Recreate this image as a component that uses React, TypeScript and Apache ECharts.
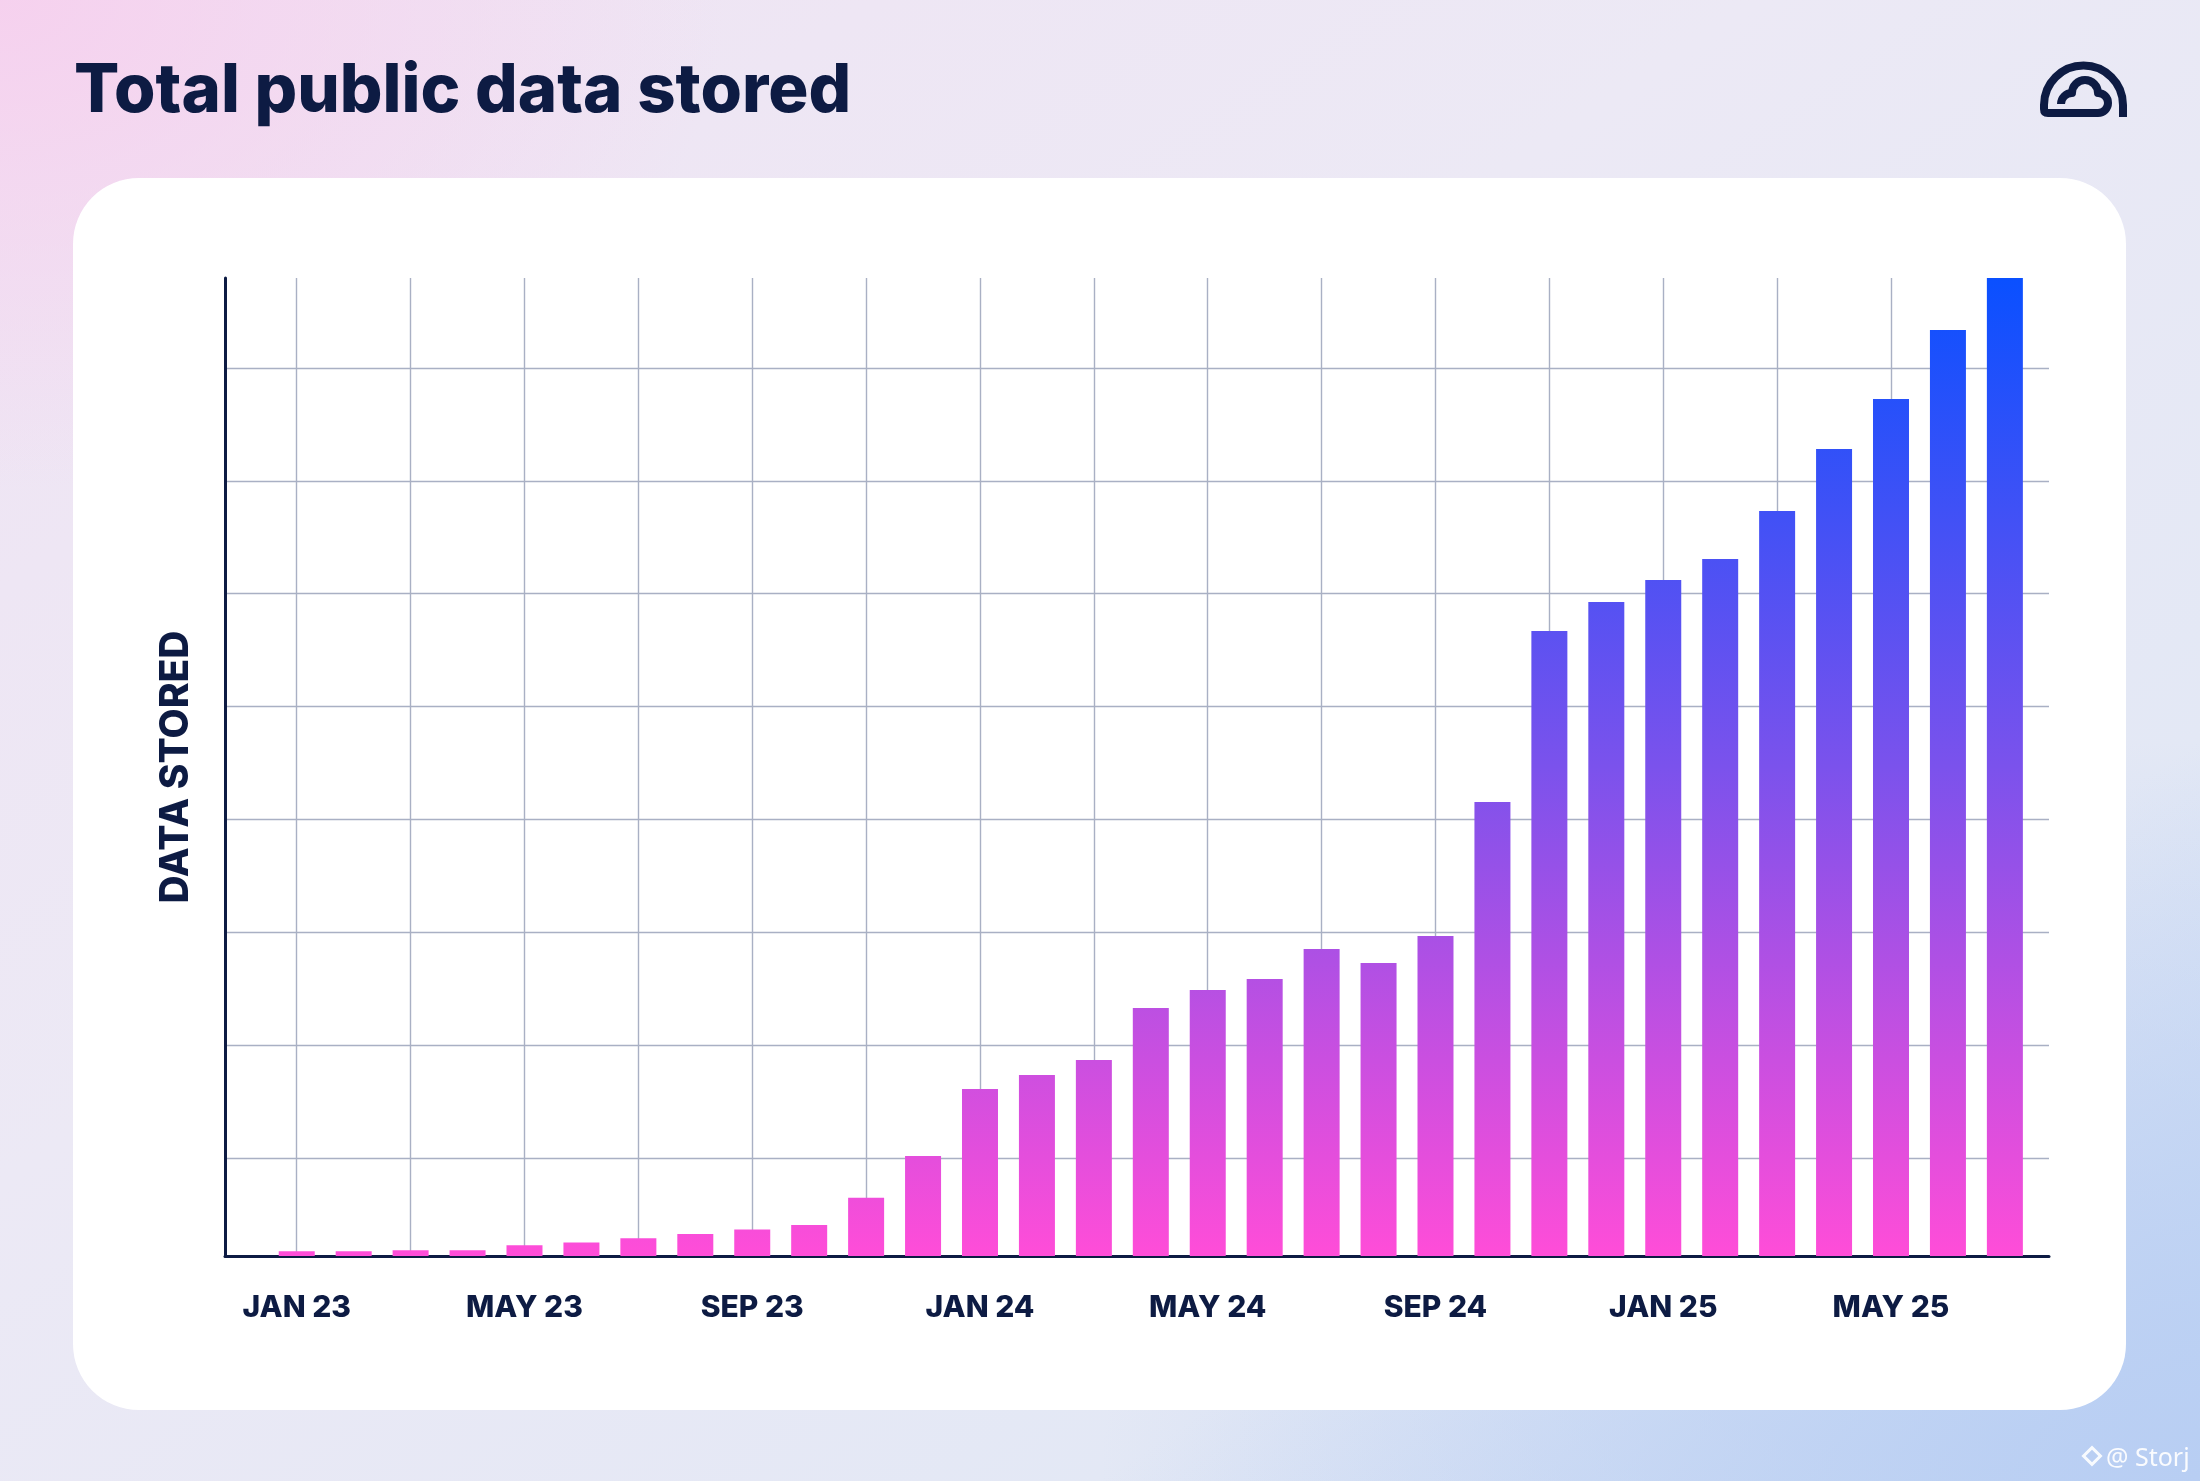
import React, { useEffect, useRef } from "react";
import * as echarts from "echarts";

// ---- data ----
const months = [
  "JAN 23", "FEB 23", "MAR 23", "APR 23", "MAY 23", "JUN 23", "JUL 23", "AUG 23",
  "SEP 23", "OCT 23", "NOV 23", "DEC 23", "JAN 24", "FEB 24", "MAR 24", "APR 24",
  "MAY 24", "JUN 24", "JUL 24", "AUG 24", "SEP 24", "OCT 24", "NOV 24", "DEC 24",
  "JAN 25", "FEB 25", "MAR 25", "APR 25", "MAY 25", "JUN 25", "JUL 25",
];
// relative amount of public data stored (top of the axis = 100)
const dataStored = [
  0.48, 0.48, 0.58, 0.58, 1.09, 1.37, 1.82, 2.26, 2.71, 3.16, 5.96, 10.22,
  17.08, 18.51, 20.04, 25.36, 27.2, 28.32, 31.39, 29.96, 32.72, 46.42, 63.9,
  66.87, 69.12, 71.27, 76.18, 82.52, 87.63, 94.68, 100,
];
const yMax = 100;
const horizontalGridValues = [10.02, 21.56, 33.1, 44.64, 56.18, 67.72, 79.26, 90.8];
const verticalGridIndexes = [0, 2, 4, 6, 8, 10, 12, 14, 16, 18, 20, 22, 24, 26, 28, 30];
const labelIndexes = [0, 4, 8, 12, 16, 20, 24, 28];
const xMin = -1.26;
const xMax = 30.775;
const chartTitle = "Total public data stored";
const yAxisTitle = "DATA STORED";
const watermark = "@ Storj";

const NAVY = "#0d1b43";
const GRID = "#a9b0c4";
const LOGO_PATH =
  "M83 57 L83 45 A39.5 39.5 0 0 0 4 45 L4 49 Q4 53 8 53 L58 53 A10 10 0 0 0 58 33 A13 13 0 0 0 32 33 A11 11 0 0 0 21 44";

let registered = false;
function registerLogo() {
  if (registered) return;
  echarts.graphic.registerShape("storjLogo", echarts.graphic.extendPath(LOGO_PATH, {}) as any);
  registered = true;
}

export default function App() {
  const ref = useRef<HTMLDivElement>(null);

  useEffect(() => {
    if (!ref.current) return;
    registerLogo();
    const chart = echarts.init(ref.current, undefined, { renderer: "svg" });

    const option: any = {
      animation: false,
      textStyle: { fontFamily: "Inter, 'Noto Sans', sans-serif" },
      graphic: [
        {
          type: "rect",
          z: -30,
          silent: true,
          shape: { x: 0, y: 0, width: 2200, height: 1481 },
          style: {
            fill: new echarts.graphic.LinearGradient(0, 0, 1, 1, [
              { offset: 0, color: "#f0e3f3" },
              { offset: 0.4, color: "#ece9f5" },
              { offset: 0.75, color: "#e3e8f5" },
              { offset: 1, color: "#c4d6f3" },
            ]),
          },
        },
        {
          type: "rect",
          z: -29,
          silent: true,
          shape: { x: 0, y: 0, width: 2200, height: 1481 },
          style: {
            fill: new echarts.graphic.RadialGradient(0, 0, 0.33, [
              { offset: 0, color: "rgba(246,208,238,0.95)" },
              { offset: 1, color: "rgba(246,208,238,0)" },
            ]),
          },
        },
        {
          type: "rect",
          z: -29,
          silent: true,
          shape: { x: 0, y: 0, width: 2200, height: 1481 },
          style: {
            fill: new echarts.graphic.RadialGradient(1, 1, 0.5, [
              { offset: 0, color: "rgba(184,206,243,1)" },
              { offset: 1, color: "rgba(184,206,243,0)" },
            ]),
          },
        },
        {
          type: "rect",
          z: -20,
          silent: true,
          shape: { x: 73, y: 178, width: 2053, height: 1232, r: 66 },
          style: { fill: "#ffffff" },
        },
        {
          type: "text",
          z: 10,
          x: 74,
          y: 87,
          style: {
            text: chartTitle,
            fill: NAVY,
            fontSize: 67,
            fontWeight: 800,
            fontFamily: "Inter",
            verticalAlign: "middle",
            align: "left",
          },
        },
        {
          type: "storjLogo",
          z: 10,
          x: 2040,
          y: 60,
          style: {
            fill: null,
            stroke: NAVY,
            lineWidth: 8,
            lineJoin: "round",
          },
        },
        {
          type: "rect",
          z: 10,
          x: 2092,
          y: 1456,
          rotation: Math.PI / 4,
          shape: { x: -6, y: -6, width: 12, height: 12 },
          style: { fill: null, stroke: "rgba(255,255,255,0.9)", lineWidth: 3 },
        },
        {
          type: "text",
          z: 10,
          x: 2106,
          y: 1456,
          style: {
            text: watermark,
            fill: "rgba(255,255,255,0.92)",
            fontSize: 25,
            fontFamily: "'Noto Sans', sans-serif",
            verticalAlign: "middle",
            align: "left",
          },
        },
      ],
      grid: {
        left: 225,
        right: 151,
        top: 278,
        bottom: 225,
        containLabel: false,
        outerBoundsMode: "none",
      },
      xAxis: {
        type: "value",
        min: xMin,
        max: xMax,
        axisLine: { show: true, onZero: false, lineStyle: { color: NAVY, width: 3 } },
        axisTick: { show: false, customValues: verticalGridIndexes },
        splitLine: { show: true, lineStyle: { color: GRID, width: 1.4 } },
        axisLabel: {
          customValues: labelIndexes,
          formatter: (v: number) => months[Math.round(v)] ?? "",
          color: NAVY,
          fontSize: 30,
          fontWeight: 800,
          fontFamily: "Inter",
          margin: 35,
        },
      },
      yAxis: {
        type: "value",
        min: 0,
        max: yMax,
        name: yAxisTitle,
        nameLocation: "middle",
        nameGap: 32,
        nameTextStyle: {
          color: NAVY,
          fontSize: 39,
          fontWeight: 800,
          fontFamily: "Inter",
        },
        axisLine: { show: true, onZero: false, lineStyle: { color: NAVY, width: 3 } },
        axisTick: { show: false, customValues: horizontalGridValues },
        axisLabel: { show: false },
        splitLine: { show: true, lineStyle: { color: GRID, width: 1.4 } },
      },
      series: [
        {
          type: "bar",
          barWidth: 36,
          data: dataStored.map((v, i) => [i, v]),
          itemStyle: {
            color: {
              type: "linear",
              x: 0,
              y: 1256,
              x2: 0,
              y2: 278,
              global: true,
              colorStops: [
                { offset: 0, color: "#ff4dd8" },
                { offset: 0.5, color: "#7b52ec" },
                { offset: 1, color: "#0a50ff" },
              ],
            },
          },
        },
      ],
    };

    chart.setOption(option);
    return () => chart.dispose();
  }, []);

  return (
    <div
      ref={ref}
      style={{ position: "fixed", left: 0, top: 0, width: 2200, height: 1481 }}
    />
  );
}
